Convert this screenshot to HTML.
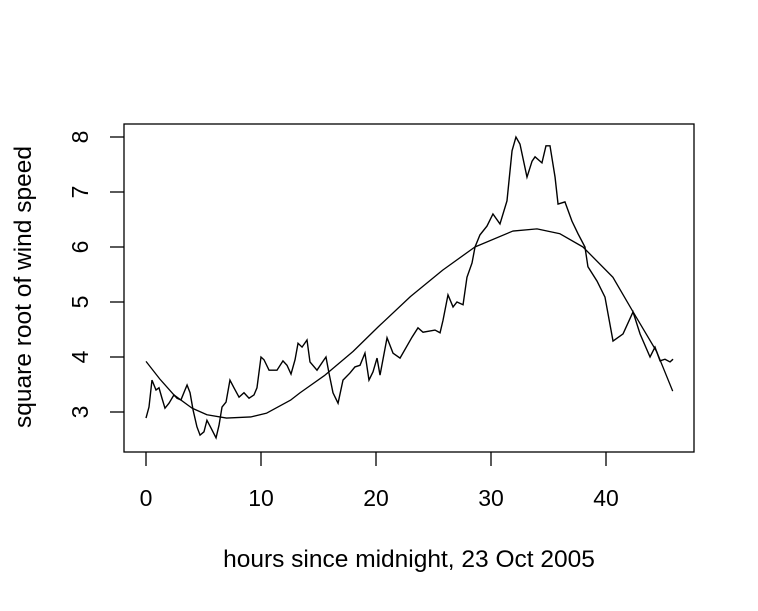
<!DOCTYPE html>
<html><head><meta charset="utf-8"><style>
body{margin:0;background:#fff}
svg text{font-family:"Liberation Sans",Arial,sans-serif;fill:#000}
</style></head><body>
<svg id="chart" width="758" height="606" xmlns="http://www.w3.org/2000/svg">
<rect x="0" y="0" width="758" height="606" fill="#fff"/>
<g id="axes"></g>
<g id="marks"></g>
<text x="409" y="567" font-size="24.5" text-anchor="middle">hours since midnight, 23 Oct 2005</text>
<text transform="translate(31,287) rotate(-90)" font-size="24.5" text-anchor="middle">square root of wind speed</text>
</svg>
<script>
const hours=[0,0.26,0.52,0.87,1.13,1.39,1.65,2.0,2.43,2.7,3.04,3.39,3.57,3.83,4.09,4.43,4.7,5.04,5.3,5.65,6.09,6.35,6.61,6.96,7.3,7.65,8.09,8.52,8.96,9.39,9.65,10.0,10.26,10.7,11.39,11.91,12.26,12.61,12.96,13.22,13.57,14.0,14.26,14.87,15.48,15.65,15.91,16.26,16.7,17.13,17.74,18.17,18.61,19.04,19.39,19.74,20.09,20.35,20.96,21.48,22.09,23.13,23.65,24.09,25.13,25.57,25.83,26.26,26.7,27.04,27.57,27.91,28.35,28.61,29.04,29.65,30.17,30.78,31.39,31.83,32.17,32.52,33.13,33.57,33.83,34.43,34.78,35.13,35.57,35.83,36.43,37.04,37.57,38.17,38.43,39.22,39.91,40.61,41.48,42.35,42.96,43.83,44.26,44.7,45.13,45.57,45.83];
const speed=[2.89,3.09,3.58,3.4,3.44,3.25,3.07,3.16,3.31,3.25,3.22,3.4,3.49,3.35,3.04,2.73,2.58,2.64,2.85,2.71,2.53,2.76,3.09,3.18,3.58,3.44,3.27,3.35,3.25,3.31,3.44,4.0,3.95,3.76,3.76,3.93,3.85,3.69,3.95,4.25,4.18,4.31,3.91,3.76,3.95,4.0,3.71,3.35,3.16,3.58,3.71,3.82,3.85,4.07,3.58,3.73,3.98,3.67,4.35,4.07,3.98,4.36,4.53,4.45,4.49,4.44,4.67,5.13,4.91,5.0,4.95,5.45,5.71,6.0,6.22,6.38,6.6,6.42,6.84,7.75,8.0,7.87,7.27,7.56,7.64,7.53,7.84,7.84,7.27,6.78,6.82,6.47,6.24,6.0,5.64,5.38,5.09,4.29,4.42,4.82,4.42,4.0,4.18,3.93,3.96,3.91,3.96];
const fitHours=[0,1.2,2.43,4,5.3,7,9.1,10.5,12.6,13.4,15.5,18,20.2,23,25.8,28.6,31.9,34,36,38,40.6,42.3,44.4,45.8];
const fitValues=[3.92,3.6,3.31,3.07,2.95,2.89,2.91,2.98,3.22,3.35,3.66,4.1,4.55,5.1,5.58,6.0,6.29,6.33,6.24,6.0,5.45,4.84,4.1,3.38];
const xTicks=[0,10,20,30,40];
const yTicks=[3,4,5,6,7,8];

const X=v=>146+v*11.5, Y=v=>412-(v-3)*55;
const NS="http://www.w3.org/2000/svg";
const axes=document.getElementById('axes'), marks=document.getElementById('marks');
function mk(tag,attrs,parent){const e=document.createElementNS(NS,tag);for(const k in attrs)e.setAttribute(k,attrs[k]);parent.appendChild(e);return e;}
const box=mk('rect',{x:124,y:124,width:570,height:328,fill:'none',stroke:'#000','stroke-width':1.3},axes);


xTicks.forEach(t=>{
  const l=mk('line',{x1:X(t),x2:X(t),y1:452,y2:466,stroke:'#000','stroke-width':1.3},axes);
  
  
  const tx=mk('text',{x:X(t),y:506,'font-size':23,'text-anchor':'middle'},axes);tx.textContent=t;
  
  
});
yTicks.forEach(t=>{
  const l=mk('line',{x1:110,x2:124,y1:Y(t),y2:Y(t),stroke:'#000','stroke-width':1.3},axes);
  
  
  const tx=mk('text',{transform:`translate(88,${Y(t)}) rotate(-90)`,'font-size':23,'text-anchor':'middle'},axes);tx.textContent=t;
  
  
});
const raw=mk('polyline',{points:hours.map((h,i)=>X(h)+','+Y(speed[i])).join(' '),fill:'none',stroke:'#000','stroke-width':1.4},marks);


const fit=mk('polyline',{points:fitHours.map((h,i)=>X(h)+','+Y(fitValues[i])).join(' '),fill:'none',stroke:'#000','stroke-width':1.3,'stroke-linejoin':'round'},marks);


</script>
</body></html>
